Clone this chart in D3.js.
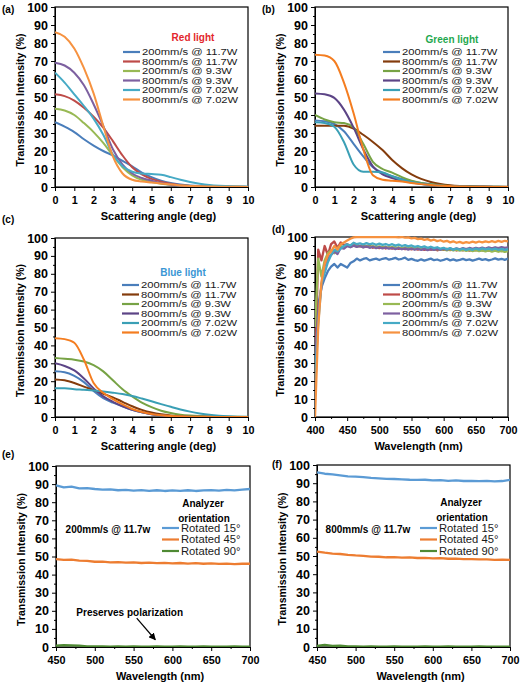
<!DOCTYPE html>
<html>
<head>
<meta charset="utf-8">
<script src="https://cdn.jsdelivr.net/npm/d3@7"></script>
<style>body{margin:0;background:#fff} svg{display:block}</style>
</head>
<body>
<svg width="520" height="685" font-family="Liberation Sans, Arial, sans-serif"></svg>
<script>

// ---- data ----
var sampleNames = ["200mm/s @ 11.7W","800mm/s @ 11.7W","200mm/s @ 9.3W","800mm/s @ 9.3W","200mm/s @ 7.02W","800mm/s @ 7.02W"];
var analyzerNames = ["Rotated 15°","Rotated 45°","Rotated 90°"];
var yTicks = [0,10,20,30,40,50,60,70,80,90,100];
var angleTicks = [0,1,2,3,4,5,6,7,8,9,10];
var specTicks = [400,450,500,550,600,650,700];
var polTicks = [450,500,550,600,650,700];

var angle = [0,0.5,1,1.5,2,2.5,3,3.5,4,4.5,5,5.5,6,6.5,7,7.5,8,8.5,9,9.5,10];

var redLight = [
  [36,33.5,30.5,26.5,23,20,17.5,14.5,11.5,8,5.5,3.5,2.2,1.4,0.9,0.6,0.4,0.3,0.2,0.1,0.1],
  [51.5,50.5,48,44,39,33,25.5,17.5,11,7,4.5,3,1.8,1,0.6,0.4,0.3,0.2,0.1,0.1,0],
  [43.5,42.5,40,35.5,30.5,24.5,17.5,11,6.5,4,2.8,1.8,1.2,0.8,0.5,0.3,0.2,0.1,0.1,0.1,0],
  [69,67.5,63.5,56.5,46,34,21,12.5,7.5,5,3.5,2.2,1.3,0.8,0.5,0.3,0.2,0.1,0.1,0,0],
  [63.5,58,51.5,45,38,29,18,11.5,8.5,7.5,7.2,6.8,5.5,4,2.8,1.8,1.1,0.7,0.5,0.3,0.2],
  [86,83.5,77,66,52,34,17,7.5,4,3,2.5,2,1.4,0.9,0.6,0.4,0.3,0.2,0.1,0.1,0]
];
var greenLight = [
  [37,36.5,35,31,24,17,11,8,6,4.5,3.2,2.2,1.5,1,0.6,0.4,0.3,0.2,0.1,0.1,0],
  [34,34,34,34,32.5,29,25,20.5,15,10.5,7,4.5,2.8,1.7,1,0.6,0.4,0.3,0.2,0.1,0.1],
  [40,37.5,36,35.5,33,24,14,10,8,5.5,3.5,2.3,1.5,1,0.6,0.4,0.3,0.2,0.1,0.1,0],
  [52,51.5,49.5,43,33,21,11.5,7,5,3.5,2.5,1.7,1.1,0.7,0.4,0.3,0.2,0.1,0.1,0,0],
  [36,35.5,33.5,25,12.5,8.5,8.5,8,6,4,2.8,1.8,1.2,0.7,0.4,0.3,0.2,0.1,0.1,0,0],
  [73.5,73,70,58,41,21,6.5,4,3.5,3,2.2,1.6,1.1,0.7,0.5,0.3,0.2,0.1,0.1,0,0]
];
var blueLight = [
  [25.5,25,23,19.5,14.5,10.5,8,6,4,2.6,1.6,1,0.6,0.4,0.3,0.2,0.1,0,0,0,0],
  [21,20.5,19,17,15,13,11,8.5,6,4,2.5,1.5,0.9,0.5,0.3,0.2,0.1,0,0,0,0],
  [33,32.5,32,31,29,25.5,20.5,15.5,11.5,8,5.5,3.5,2.2,1.3,0.8,0.5,0.3,0.2,0.1,0.1,0],
  [30,28.5,26,21.5,16,11.5,8.5,6,4,2.6,1.6,1,0.6,0.4,0.2,0.1,0.1,0,0,0,0],
  [16,16,15.5,15.2,14.8,14.3,13.6,12.8,11.7,10.3,8.8,7.2,5.7,4.2,3,2,1.2,0.7,0.4,0.2,0.1],
  [44,43.5,41.5,32,19,13.5,10,7,4.5,2.8,1.7,1,0.6,0.4,0.2,0.1,0.1,0,0,0,0]
];

var wave = [400,405,410,415,420,425,430,435,440,445,450,455,460,465,470,475,480,485,490,495,500,505,510,515,520,525,530,535,540,545,550,555,560,565,570,575,580,585,590,595,600,605,610,615,620,625,630,635,640,645,650,655,660,665,670,675,680,685,690,695,700];
var spectra = [
  [10,62,72,77,81,83.5,85,83,85,84,83,85.5,86.5,88,87,87.8,88.2,87,87.6,88,87.2,87.9,88.3,87.4,87.8,88.4,87.5,87.9,88.5,87.3,87.8,87.2,86.8,87.6,86.9,87.4,88,87.1,87.5,86.8,87.3,87.9,87,87.6,86.9,87.3,87.8,87.2,87.6,86.9,87.4,88,87.3,87.7,87,87.5,88.1,87.4,87.9,87.3,88],
  [20,93,87,95,90,96,97.5,94,97,95.5,96,95,96.5,95.5,94.8,95.6,94.5,95.2,94,94.8,93.8,94.5,93.6,94.3,93.5,94.2,93.4,94,93.2,93.9,93.1,93.8,93,93.6,92.8,93.5,92.9,93.4,92.6,93.3,92.8,93.5,92.7,93.2,92.5,93.1,92.6,93.2,92.4,93,92.6,93.2,92.5,93,92.4,92.9,92.3,92.8,92.2,92.7,92.5],
  [50,88,78,87,91,92.5,91,94,95,94,95.2,94.5,95.3,94.6,95,94.3,95.1,94.4,94.9,94.2,94.8,94.1,94.6,93.9,94.5,93.8,94.3,93.6,94.2,93.5,94,93.4,93.9,93.2,93.7,93,93.6,92.9,93.4,92.8,93.3,92.6,93.1,92.5,93,92.4,92.9,92.3,92.8,92.2,92.7,92.1,92.6,92,92.5,91.9,92.4,91.8,92.3,91.7,92.2],
  [30,58,72,84,88,90,92,90.5,94,93.5,95,94.3,95.2,94.5,95,94.2,94.8,94,94.6,93.8,94.4,93.7,94.2,93.5,94,93.3,93.9,93.2,93.7,93,93.6,92.9,93.5,92.8,93.4,92.7,93.3,92.8,93.4,92.9,93.5,93,93.6,93.1,93.7,93.2,93.8,93.3,93.9,93.4,94,93.5,94.1,93.6,94.2,93.7,94.3,93.8,94.4,93.9,94.2],
  [20,52,74,80,86,90,93,92,93.5,95,96,95.3,96.8,96,96.5,95.8,96.6,95.9,96.4,95.7,96.3,95.6,96.1,95.4,96,95.2,95.8,95,95.5,94.8,95.3,94.5,95,94.3,94.8,94,94.6,93.8,94.3,93.5,94,93.2,93.8,93,93.6,92.9,93.5,92.8,93.4,92.9,93.6,93,93.7,93.1,93.6,93,93.5,92.9,93.4,92.8,93.2],
  [0,50,75,85,90,92,95,93,96,97,98,99,99.8,100,100,100,100,100,100,100,100,100,100,100,100,100,99.8,100,99.6,99.8,99.2,99.5,98.8,99.1,98.4,98.8,98,98.5,97.7,98.2,97.4,97.9,97,97.6,96.8,97.3,96.6,97.2,96.8,97.4,96.9,97.5,97,97.6,97.1,97.7,97.2,97.8,97.3,97.9,97.5]
];

var polWave = [450,460,470,480,490,500,510,520,530,540,550,560,570,580,590,600,610,620,630,640,650,660,670,680,690,700];
var pol200 = [
  [89.3,88.2,88.6,87.6,87.8,87.3,86.9,87.1,86.6,86.8,86.4,86.7,86.3,86.6,86.2,86.5,86.3,86.6,86.2,86.5,86.7,86.4,86.8,86.5,86.9,87.3],
  [48.6,48.1,48.3,47.7,47.6,47.1,47.2,46.8,46.9,46.6,46.7,46.4,46.6,46.3,46.5,46.2,46.4,46.1,46.3,46.0,46.2,45.9,46.1,45.8,46.0,46.0],
  [0.8,1.0,0.9,0.8,0.4,0.3,0.3,0.2,0.3,0.2,0.3,0.2,0.2,0.3,0.2,0.2,0.3,0.2,0.2,0.3,0.2,0.2,0.2,0.3,0.2,0.2]
];
var pol800 = [
  [96,95.2,94.8,94.3,93.8,93.6,93.3,92.9,92.7,92.4,92.3,92.1,91.9,91.8,91.9,91.6,91.7,91.3,91.5,91.2,91.3,91.1,91.3,91.0,91.2,91.8],
  [52.4,51.8,51.3,51.1,50.6,50.3,50.1,49.7,49.6,49.3,49.4,49.1,49.2,48.9,49.0,48.7,48.8,48.5,48.6,48.3,48.3,48.1,48.2,47.9,48.0,47.9],
  [0.6,1.2,0.6,0.8,0.3,0.3,0.2,0.3,0.2,0.2,0.3,0.2,0.2,0.2,0.3,0.2,0.2,0.3,0.2,0.2,0.2,0.3,0.2,0.2,0.2,0.2]
];

var colRed   = ["#4a7ebb","#be4b48","#98b954","#7d60a0","#46aac5","#f69240"];
var colBrown = ["#4a7ebb","#843c0c","#77a345","#5c4486","#3a9fb5","#f47d20"];
var colPol   = ["#5b9bd5","#ed7d31","#4f8a34"];

// ---- drawing ----
var svg = d3.select("svg");

function styleAxis(a, size) {
  a.selectAll("text").attr("font-size", size).attr("font-weight", "bold")
    .attr("font-family", "Liberation Sans, Arial, sans-serif").attr("fill", "#000");
  a.selectAll("line,path").attr("stroke", "#000");
}

function panel(p) {
  var g = svg.append("g");
  var x = d3.scaleLinear().domain(p.xDomain).range([p.left, p.right]);
  var y = d3.scaleLinear().domain([0, 100]).range([p.bottom, p.top]);
  var cid = "clip" + p.id;

  g.append("clipPath").attr("id", cid)
    .append("rect").attr("x", p.left).attr("y", p.top - 1)
    .attr("width", p.right - p.left).attr("height", p.bottom - p.top + 1);

  // minor ticks
  g.append("g").attr("transform", "translate(" + p.left + ",0)")
    .call(d3.axisLeft(y).tickValues(d3.range(5, 100, 10)).tickSize(2).tickSizeOuter(0).tickFormat(""));
  if (p.xMinor) {
    g.append("g").attr("transform", "translate(0," + p.bottom + ")")
      .call(d3.axisBottom(x).tickValues(p.xMinor).tickSize(2).tickSizeOuter(0).tickFormat(""));
  }

  var ya = g.append("g").attr("transform", "translate(" + p.left + ",0)")
    .call(d3.axisLeft(y).tickValues(yTicks).tickSize(4).tickSizeOuter(0).tickPadding(3));
  var xa = g.append("g").attr("transform", "translate(0," + p.bottom + ")")
    .call(d3.axisBottom(x).tickValues(p.xTicks).tickSize(4).tickSizeOuter(0).tickPadding(5));
  styleAxis(ya, 12.5);
  styleAxis(xa, 10.8);
  g.selectAll("path.domain").attr("stroke", "#000");

  g.append("rect").attr("x", p.left).attr("y", p.top)
    .attr("width", p.right - p.left).attr("height", p.bottom - p.top)
    .attr("fill", "none").attr("stroke", "#000").attr("stroke-width", 1.2);

  var line = d3.line().curve(p.curve)
    .x(function(d, i) { return x(p.xs[i]); })
    .y(function(d) { return y(d); });

  g.append("g").attr("clip-path", "url(#" + cid + ")")
    .selectAll("path").data(p.series).enter().append("path")
      .attr("d", line)
      .attr("fill", "none")
      .attr("stroke", function(d, i) { return p.colors[i]; })
      .attr("stroke-width", p.width)
      .attr("stroke-linejoin", "round");

  // legend
  var lg = g.append("g");
  p.names.forEach(function(n, i) {
    var yy = p.ly + i * p.lstep;
    lg.append("line").attr("x1", p.lx).attr("x2", p.lx + 17).attr("y1", yy).attr("y2", yy)
      .attr("stroke", p.colors[i]).attr("stroke-width", 2.2);
    lg.append("text").attr("transform", "translate(" + (p.lx + 19) + "," + yy + ") scale(" + p.lscale + ",1)")
      .attr("dy", "0.35em").attr("font-size", p.lfont).attr("fill", "#1a1a1a").text(n);
  });
  if (p.title) {
    g.append("text").attr("x", p.tx).attr("y", p.ty).attr("dy", "0.35em")
      .attr("text-anchor", "middle").attr("font-size", 10).attr("font-weight", "bold")
      .attr("fill", p.titleColor).text(p.title);
  }

  // axis titles and letter
  g.append("text").attr("x", (p.left + p.right) / 2 + 7).attr("y", p.bottom + 33)
    .attr("text-anchor", "middle").attr("font-size", 11).attr("font-weight", "bold")
    .text(p.xLabel);
  g.append("text")
    .attr("transform", "translate(" + (p.left - 35) + "," + ((p.top + p.bottom) / 2 + 3) + ") rotate(-90)")
    .attr("dy", "0.35em").attr("text-anchor", "middle").attr("font-size", 10.5).attr("font-weight", "bold")
    .text("Transmission Intensity (%)");
  g.append("text").attr("x", p.letterX).attr("y", p.letterY)
    .attr("font-size", 10).attr("font-weight", "bold").text(p.letter);

  return {g: g, x: x, y: y};
}

var base = {xDomain: [0, 10], xTicks: angleTicks, xs: angle, curve: d3.curveMonotoneX, width: 2,
  names: sampleNames, lstep: 9.5, lfont: 9.6, lscale: 1.17, xLabel: "Scattering angle (deg)"};

panel(Object.assign({}, base, {id: "a", left: 55, right: 248, top: 7, bottom: 187, series: redLight, colors: colRed,
  lx: 123, ly: 52, title: "Red light", titleColor: "#e3262d", tx: 193, ty: 37, letter: "(a)", letterX: 2, letterY: 13}));
panel(Object.assign({}, base, {id: "b", left: 315, right: 508, top: 7, bottom: 187, series: greenLight, colors: colBrown,
  lx: 383, ly: 52, title: "Green light", titleColor: "#1fa84f", tx: 452, ty: 39, letter: "(b)", letterX: 262, letterY: 13}));
panel(Object.assign({}, base, {id: "c", left: 55, right: 248, top: 238, bottom: 417, series: blueLight, colors: colBrown,
  lx: 122, ly: 285, title: "Blue light", titleColor: "#3a96d4", tx: 183, ty: 272, letter: "(c)", letterX: 2, letterY: 223}));
panel(Object.assign({}, base, {id: "d", left: 315, right: 508, top: 237, bottom: 417, series: spectra, colors: colRed,
  xDomain: [400, 700], xTicks: specTicks, xMinor: [425,475,525,575,625,675], xs: wave, curve: d3.curveLinear, width: 2.3,
  lx: 383, ly: 285, xLabel: "Wavelength (nm)", letter: "(d)", letterX: 272, letterY: 233}));

var polBase = {xDomain: [450, 700], xTicks: polTicks, xMinor: [475,525,575,625,675], xs: polWave, curve: d3.curveLinear, width: 2.3,
  names: analyzerNames, colors: colPol, lstep: 11.5, lfont: 10.4, lscale: 1.08, xLabel: "Wavelength (nm)"};

function polNotes(p, r, sample) {
  r.g.append("text").attr("x", p.lx + 41).attr("y", p.top + 37).attr("dy", "0.35em")
    .attr("text-anchor", "middle").attr("font-size", 10).attr("font-weight", "bold").text("Analyzer");
  r.g.append("text").attr("x", p.lx + 42).attr("y", p.top + 52).attr("dy", "0.35em")
    .attr("text-anchor", "middle").attr("font-size", 10).attr("font-weight", "bold").text("orientation");
  r.g.append("text").attr("x", p.sx).attr("y", p.ly + 1).attr("dy", "0.35em")
    .attr("text-anchor", "middle").attr("font-size", 10).attr("font-weight", "bold").text(sample);
}

var pe = Object.assign({}, polBase, {id: "e", left: 56, right: 250, top: 466, bottom: 647, series: pol200,
  lx: 162, ly: 528, sx: 108, letter: "(e)", letterX: 2, letterY: 458});
var re = panel(pe);
polNotes(pe, re, "200mm/s @ 11.7w");

// arrow annotation in (e)
svg.append("defs").append("marker").attr("id", "arr").attr("viewBox", "0 0 10 10")
  .attr("refX", 9).attr("refY", 5).attr("markerWidth", 6).attr("markerHeight", 6).attr("orient", "auto")
  .append("path").attr("d", "M0,0L10,5L0,10z").attr("fill", "#000");
re.g.append("line").attr("x1", re.x(554)).attr("y1", re.y(16)).attr("x2", re.x(578)).attr("y2", re.y(4))
  .attr("stroke", "#000").attr("stroke-width", 1.2).attr("marker-end", "url(#arr)");
re.g.append("text").attr("x", re.x(545)).attr("y", re.y(19.3)).attr("dy", "0.35em")
  .attr("text-anchor", "middle").attr("font-size", 10).attr("font-weight", "bold").text("Preserves polarization");

var pf = Object.assign({}, polBase, {id: "f", left: 317, right: 510, top: 465, bottom: 647, series: pol800,
  lx: 420, ly: 528, sx: 368, letter: "(f)", letterX: 272, letterY: 468});
var rf = panel(pf);
polNotes(pf, rf, "800mm/s @ 11.7w");

</script>
</body>
</html>
